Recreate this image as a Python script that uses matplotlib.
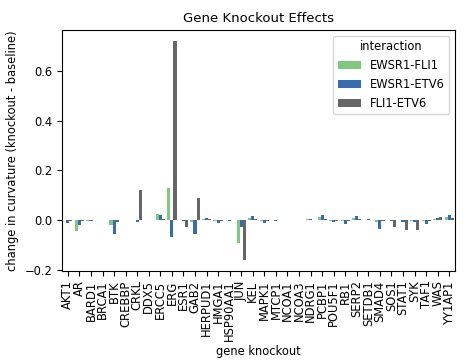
import matplotlib
matplotlib.use("Agg")
import matplotlib.pyplot as plt
import numpy as np

genes = ["AKT1", "AR", "BARD1", "BRCA1", "BTK", "CREBBP", "CRKL", "DDX5", "ERCC5", "ERG",
         "ESR1", "GAB2", "HERPUD1", "HMGA1", "HSP90AA1", "JUN", "KEL", "MAPK1", "MTCP1",
         "NCOA1", "NCOA3", "NDRG1", "PCBP1", "POU5F1", "RB1", "SERP2", "SETDB1", "SMAD4",
         "SOS1", "STAT1", "SYK", "TAF1", "WAS", "YY1AP1"]

interactions = ["EWSR1-FLI1", "EWSR1-ETV6", "FLI1-ETV6"]

ewsr1_fli1 = [-0.002, -0.045, -0.003, -0.002, -0.02, -0.001, 0.001, 0.0, 0.025, 0.13,
              -0.002, -0.01, 0.005, -0.005, -0.002, -0.095, 0.008, -0.005, -0.002,
              0.0, 0.0, 0.002, 0.01, -0.005, -0.003, 0.008, 0.001, -0.01,
              -0.002, -0.002, -0.003, -0.005, 0.003, 0.01]
ewsr1_etv6 = [-0.012, -0.02, -0.005, -0.002, -0.055, -0.002, -0.008, 0.0, 0.02, -0.068,
              -0.005, -0.058, 0.008, -0.012, -0.004, -0.03, 0.015, -0.012, -0.005,
              0.0, 0.0, 0.003, 0.02, -0.01, -0.015, 0.015, 0.002, -0.035,
              -0.005, -0.008, -0.01, -0.015, 0.008, 0.02]
fli1_etv6 = [-0.004, -0.005, -0.002, -0.001, -0.008, -0.001, 0.122, 0.0, 0.004, 0.72,
             -0.028, 0.09, 0.002, -0.004, -0.002, -0.16, 0.004, -0.004, -0.002,
             0.0, 0.0, 0.001, 0.004, -0.006, -0.004, 0.004, 0.001, -0.006,
             -0.03, -0.04, -0.04, -0.004, 0.012, 0.006]

colors = ["#7fc97f", "#386cb0", "#666666"]

fig = plt.figure(figsize=(4.74, 3.61), dpi=100)
ax = fig.add_axes([0.131, 0.25, 0.829, 0.667])

x = np.arange(len(genes))
w = 0.8 / 3
for i, (vals, c, lab) in enumerate(zip([ewsr1_fli1, ewsr1_etv6, fli1_etv6], colors, interactions)):
    ax.bar(x + (i - 1) * w, vals, width=w, color=c, label=lab)

ax.set_xticks(x)
ax.set_xticklabels(genes, rotation=90, fontsize=8.3)
ax.set_xlim(-0.5, len(genes) - 0.5)
ax.set_ylim(-0.205, 0.765)
ax.set_yticks([-0.2, 0.0, 0.2, 0.4, 0.6])
ax.tick_params(axis="y", labelsize=8.3)
ax.set_title("Gene Knockout Effects", fontsize=9.5)
ax.set_ylabel("change in curvature (knockout - baseline)", fontsize=8.3)
ax.set_xlabel("gene knockout", fontsize=8.3, labelpad=3)
ax.legend(title="interaction", loc="upper right", fontsize=8.3, title_fontsize=8.3)

fig.savefig("out.png", dpi=100)
